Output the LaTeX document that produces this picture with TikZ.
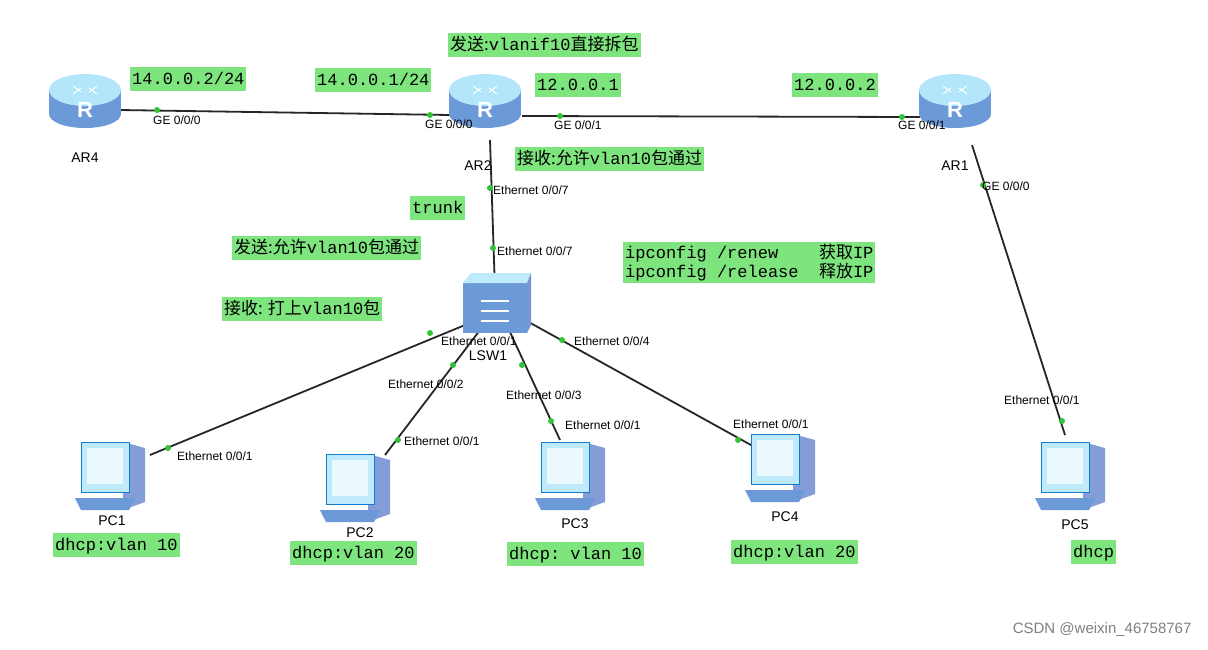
\documentclass[tikz,border=0pt]{standalone}
\usepackage{fontspec}
\setmainfont{Liberation Sans}
\setmonofont{Liberation Mono}
\newfontfamily\cjk{Noto Sans CJK SC}
\newcommand{\zh}[1]{{\cjk #1}}
\begin{document}
\begin{tikzpicture}[x=1pt,y=-1pt,
  lbl/.style={fill=green!45!white!90!black,inner sep=2pt,font=\fontsize{17}{19}\selectfont\ttfamily,anchor=north west,text height=15pt,text depth=5pt},
  port/.style={font=\fontsize{12}{14}\selectfont,inner sep=1pt},
  dev/.style={font=\fontsize{14}{16}\selectfont,inner sep=1pt},
  dot/.style={circle,fill=green!70!black!80,inner sep=0pt,minimum size=6pt},
  link/.style={line width=1.8pt,black!85}]
\useasboundingbox (0,0) rectangle (1208,649);
\fill[white] (0,0) rectangle (1208,649);
% links
\draw[link] (120,110) -- (450,115);
\draw[link] (522,116) -- (920,117);
\draw[link] (490,140) -- (495,290);
\draw[link] (972,145) -- (1065,435);
\draw[link] (465,325) -- (150,455);
\draw[link] (480,330) -- (385,455);
\draw[link] (510,332) -- (560,440);
\draw[link] (525,320) -- (760,450);
% router pic
\newcommand{\router}[2]{%
 \begin{scope}[shift={(#1)}]
  \fill[cyan!50!blue!60] (0,14) ellipse[x radius=36,y radius=14];
  \fill[cyan!50!blue!60] (-36,-10) rectangle (36,14);
  \fill[cyan!30!white] (0,-10) ellipse[x radius=36,y radius=16];
  \draw[white,line width=1pt] (-12,-14)--(-4,-8) (12,-14)--(4,-8) (-12,-6)--(-4,-12) (12,-6)--(4,-12);
  \node[white,font=\bfseries\fontsize{22}{22}\selectfont] at (0,10) {R};
 \end{scope}
 \coordinate (#2) at (#1);}
\newcommand{\pc}[2]{%
 \begin{scope}[shift={(#1)}]
  \fill[cyan!40!blue!50] (8,-28) -- (30,-22) -- (30,32) -- (8,40) -- cycle;
  \fill[cyan!25!white,draw=cyan!60!blue] (-34,-28) -- (14,-28) -- (14,22) -- (-34,22) -- cycle;
  \fill[cyan!8!white] (-28,-22) rectangle (8,14);
  \fill[cyan!50!blue!60] (-40,28) -- (20,28) -- (14,40) -- (-34,40) -- cycle;
 \end{scope}
 \coordinate (#2) at (#1);}
\router{85,100}{AR4}
\router{485,100}{AR2}
\router{955,100}{AR1}
\begin{scope}[shift={(495,305)}]
 \fill[cyan!50!blue!60] (-32,-22) rectangle (32,28);
 \fill[cyan!25!white] (-32,-22) -- (-24,-32) -- (36,-32) -- (32,-22) -- cycle;
 \fill[cyan!40!blue!55] (32,-22) -- (36,-32) -- (36,20) -- (32,28) -- cycle;
 \draw[white,line width=2pt] (-14,-4)--(14,-4) (-14,6)--(14,6) (-14,16)--(14,16);
\end{scope}
\coordinate (LSW1) at (495,305);
\pc{115,470}{PC1}
\pc{360,482}{PC2}
\pc{575,470}{PC3}
\pc{785,462}{PC4}
\pc{1075,470}{PC5}
% dots
\foreach \p in {(157,110),(430,115),(560,116),(902,117),(983,185),(490,188),(493,248),(430,333),(453,365),(522,365),(562,340),(168,448),(398,440),(551,421),(738,440),(1062,421)}
  \node[dot] at \p {};
% port labels
\node[port,anchor=west] at (152,120) {GE 0/0/0};
\node[port,anchor=west] at (424,124) {GE 0/0/0};
\node[port,anchor=west] at (553,125) {GE 0/0/1};
\node[port,anchor=west] at (897,125) {GE 0/0/1};
\node[port,anchor=west] at (981,186) {GE 0/0/0};
\node[port,anchor=west] at (492,190) {Ethernet 0/0/7};
\node[port,anchor=west] at (496,251) {Ethernet 0/0/7};
\node[port,anchor=west] at (440,341) {Ethernet 0/0/1};
\node[port,anchor=west] at (573,341) {Ethernet 0/0/4};
\node[port,anchor=west] at (387,384) {Ethernet 0/0/2};
\node[port,anchor=west] at (505,395) {Ethernet 0/0/3};
\node[port,anchor=west] at (176,456) {Ethernet 0/0/1};
\node[port,anchor=west] at (403,441) {Ethernet 0/0/1};
\node[port,anchor=west] at (564,425) {Ethernet 0/0/1};
\node[port,anchor=west] at (732,424) {Ethernet 0/0/1};
\node[port,anchor=west] at (1003,400) {Ethernet 0/0/1};
% device labels
\node[dev] at (85,158) {AR4};
\node[dev] at (478,166) {AR2};
\node[dev] at (955,166) {AR1};
\node[dev] at (488,356) {LSW1};
\node[dev] at (112,521) {PC1};
\node[dev] at (360,533) {PC2};
\node[dev] at (575,524) {PC3};
\node[dev] at (785,517) {PC4};
\node[dev] at (1075,525) {PC5};
% green labels
\node[lbl] at (130,67) {14.0.0.2/24};
\node[lbl] at (315,68) {14.0.0.1/24};
\node[lbl] at (448,33) {\zh{发送:}vlanif10\zh{直接拆包}};
\node[lbl] at (535,73) {12.0.0.1};
\node[lbl] at (792,73) {12.0.0.2};
\node[lbl] at (515,147) {\zh{接收:允许}vlan10\zh{包通过}};
\node[lbl] at (410,196) {trunk};
\node[lbl] at (232,236) {\zh{发送:允许}vlan10\zh{包通过}};
\node[lbl] at (222,297) {\zh{接收: 打上}vlan10\zh{包}};
\node[lbl,align=left,text height=,text depth=] at (623,242) {ipconfig /renew~~~~\zh{获取}IP\\ipconfig /release~~\zh{释放}IP};
\node[lbl] at (53,533) {dhcp:vlan 10};
\node[lbl] at (290,541) {dhcp:vlan 20};
\node[lbl] at (507,542) {dhcp: vlan 10};
\node[lbl] at (731,540) {dhcp:vlan 20};
\node[lbl] at (1071,540) {dhcp};
\node[anchor=east,gray,font=\fontsize{15}{17}\selectfont] at (1195,630) {CSDN @weixin\_46758767};
\end{tikzpicture}
\end{document}
